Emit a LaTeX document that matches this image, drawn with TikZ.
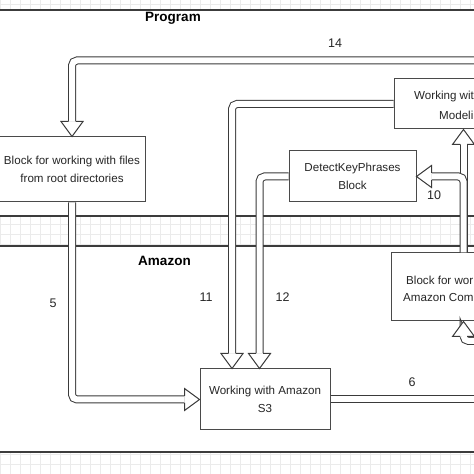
\documentclass[tikz,border=0pt]{standalone}
\usepackage{fontspec}
\setmainfont{Liberation Sans}
\definecolor{framegray}{HTML}{3C3C3C}
\definecolor{boxgray}{HTML}{4A4A4A}
\definecolor{arrowgray}{HTML}{3A3A3A}
\definecolor{textgray}{HTML}{262626}
\definecolor{gridgray}{HTML}{EBEBEB}
\begin{document}
\begin{tikzpicture}[x=1pt, y=1pt,
  frame/.style = {draw=framegray, line width=1.2pt, fill=white},
  box/.style = {draw=boxgray, line width=1pt, fill=white, text=textgray, align=center, font=\fontsize{11.6}{17.5}\selectfont},
  frag/.style = {anchor=west, inner sep=0pt, text=textgray, font=\fontsize{11.6}{17.5}\selectfont},
  title/.style = {font=\fontsize{13.5}{16}\selectfont\bfseries},
  num/.style = {text=textgray, font=\fontsize{12.5}{15}\selectfont},
  shaft/.style = {draw=arrowgray, line width=1pt, double=white, double distance=6pt, rounded corners=5pt, shorten >=15pt},
  hollowhead/.pic = {\fill[white] (0,0) -- (-15,11) -- (-15,-11) -- cycle;
    \draw[arrowgray, line width=1pt, line join=miter] (-15,3.5) -- (-15,11) -- (0,0) -- (-15,-11) -- (-15,-3.5);}]
  \useasboundingbox (0,0) rectangle (474,474);
  \clip (0,0) rectangle (474,474);
  \draw[gridgray, line width=0.5pt, step=10] (0,0) grid (474,474);
  \node[frame, minimum width=500pt, minimum height=206pt] (program) at (237,361) {};
  \node[frame, minimum width=500pt, minimum height=206pt] (amazon) at (237,125) {};
  \node[title] (programT) at (173,456) {Program};
  \node[title] (amazonT) at (164.5,213) {Amazon};
  \node[box, minimum width=146pt, minimum height=65pt] (files) at (72,304.5) {Block for working with files\\from root directories};
  \node[box, minimum width=140pt, minimum height=50pt] (modeling) at (464,370) {};
  \node[box, minimum width=127pt, minimum height=51pt] (dkp) at (352.5,297.5) {DetectKeyPhrases\\Block};
  \node[box, minimum width=145pt, minimum height=68pt] (comp) at (463.5,187) {};
  \node[box, minimum width=130pt, minimum height=61pt] (s3) at (265,74.5) {Working with Amazon\\S3};
  \node[frag] (modelingA) at (414,377) {Working wit};
  \node[frag] (modelingB) at (439,359) {Modeli};
  \node[frag] (compA) at (406,194) {Block for wor};
  \node[frag] (compB) at (403,176) {Amazon Com};
  \coordinate (from14) at (480,413.5);
  \coordinate (to6) at (480,74.5);
  \coordinate (from6) at (480,133);
  \coordinate (s3a) at ([xshift=-33pt]s3.north);
  \coordinate (s3b) at ([xshift=-5.5pt]s3.north);
  \coordinate (modelingIn) at (comp.north |- modeling.south);
  \draw[shaft] (from14) -| (files.north);
  \pic[rotate=-90] at (files.north) {hollowhead};
  \draw[shaft] (files.south) |- (s3.west);
  \pic at (s3.west) {hollowhead};
  \draw[shaft] (modeling.west) -| (s3a);
  \pic[rotate=-90] at (s3a) {hollowhead};
  \draw[shaft] (dkp.west) -| (s3b);
  \pic[rotate=-90] at (s3b) {hollowhead};
  \draw[shaft, shorten >=0pt] (s3.east) -- (to6);
  \draw[shaft] (from6) -| (comp.south);
  \pic[rotate=90] at (comp.south) {hollowhead};
  \draw[shaft] (comp.north) -- (modelingIn);
  \pic[rotate=90] at (modelingIn) {hollowhead};
  \draw[shaft] (comp.north) |- (dkp.east);
  \pic[rotate=180] at (dkp.east) {hollowhead};
  \node[num] (n14) at (335,431) {14};
  \node[num] (n5) at (53,171) {5};
  \node[num] (n11) at (206,177) {11};
  \node[num] (n12) at (282.5,177) {12};
  \node[num] (n10) at (434,279) {10};
  \node[num] (n6) at (412,92) {6};
\end{tikzpicture}
\end{document}
